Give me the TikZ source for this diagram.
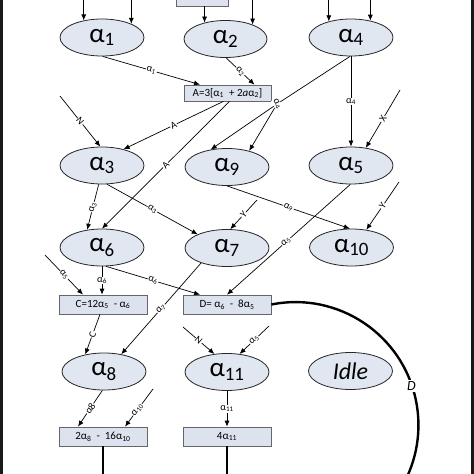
\documentclass[tikz,border=0pt]{standalone}
\usepackage{fontspec}
\setmainfont{Carlito}
\usetikzlibrary{calc,arrows.meta,shapes.geometric}
\definecolor{ellfill}{HTML}{E1E7F1}
\definecolor{boxfill}{HTML}{DDE3EE}
\newcommand{\al}[1]{α\textsubscript{#1}}
\begin{document}
\begin{tikzpicture}[x=1pt,y=-1pt,
 ell/.style={ellipse, draw=black!85, line width=0.8pt, fill=ellfill, minimum width=84pt, minimum height=37pt, inner sep=0pt, font=\fontsize{27}{27}\selectfont},
 bx/.style={rectangle, draw=black!60, line width=0.7pt, fill=boxfill, minimum width=88pt, minimum height=19pt, inner sep=0pt, font=\fontsize{11}{11}\selectfont},
 con/.style={-{Latex[length=6pt,width=5pt]}, line width=0.7pt},
 ln/.style={line width=0.7pt},
 elab/.style={fill=white, inner sep=0.6pt, font=\fontsize{10}{10}\selectfont, sloped},
 elabu/.style={fill=white, inner sep=0.6pt, font=\fontsize{10}{10}\selectfont},
 heavy/.style={line width=2.4pt}
]
\useasboundingbox (0,0) rectangle (474,474);
\fill[white] (0,0) rectangle (474,474);
\clip (0,0) rectangle (474,474);
\fill[black!90] (0,0) rectangle (2.5,474);
\fill[black!90] (471,0) rectangle (474,474);

% nodes
\node[ell] (a1) at (102,37.5) {\al{1}};
\node[ell, minimum width=83pt] (a2) at (225.5,39) {\al{2}};
\node[ell] (a4) at (351,37.5) {\al{4}};
\node[bx, minimum width=52pt, minimum height=16pt] (topbox) at (202,-2) {};
\node[bx, minimum width=87pt, minimum height=16pt] (boxA) at (227.5,93) {A=3[\al{1} \ + 2\textit{a}\al{2}]};
\node[ell] (a3) at (102,165.5) {\al{3}};
\node[ell] (a9) at (227,167) {\al{9}};
\node[ell] (a5) at (351,165.5) {\al{5}};
\node[ell] (a6) at (102,247.5) {\al{6}};
\node[ell] (a7) at (227,248) {\al{7}};
\node[ell] (a10) at (351.5,247.5) {\al{10}};
\node[bx] (boxC) at (103,304.5) {C=12\al{5} \ - \al{6}};
\node[bx] (boxD) at (227,304.5) {D= \al{6} \ - \ 8\al{5}};
\node[ell] (a8) at (104,371.5) {\al{8}};
\node[ell] (a11) at (227,372) {\al{11}};
\node[ell, font=\itshape\fontsize{24}{24}\selectfont] (idle) at (350.5,371) {Idle};
\node[bx] (boxE) at (103,436.5) {2\al{8} \ - \ 16\al{10}};
\node[bx] (boxF) at (227,436.5) {4\al{11}};

% free ends
\coordinate (top) at (0,-1);
\coordinate (bot) at (0,480);
\coordinate (n1) at (60,96);
\coordinate (x1) at (400,90);
\coordinate (y1) at (257,200);
\coordinate (y2) at (399,182);
\coordinate (c5) at (45,255);
\coordinate (n2) at (183,327);
\coordinate (a5b) at (269,326);
\coordinate (a10b) at (153,389);
\coordinate (ctr) at (295,425);

% top arrows
\draw[con] (a1.137 |- top) -- (a1.137);
\draw[con] (a1.25 |- top) -- (a1.25);
\draw[con] (topbox.south -| a2.142) -- (a2.142);
\draw[con] (a2.28 |- top) -- (a2.28);
\draw[con] (a4.144 |- top) -- (a4.144);
\draw[con] (a4.41 |- top) -- (a4.41);

% row 1 -> A
\draw[con] (a1.-88) -- node[elab]{\al{1}} ([xshift=-27.5pt]boxA.north);
\draw[con] (a2.-88) -- node[elab]{\al{2}} ([xshift=27pt]boxA.north);

% alpha4 junction
\node[elabu, rotate=-60] (j4) at (277,104) {\al{4}};
\draw[ln] (a4.-93) -- (j4);
\draw[con] (j4) -- (a9.133);
\draw[con] (j4) -- (a9.36);
\draw[con] (a4.south) -- node[elabu]{\al{4}} (a5.north);

% A outputs
\draw[con] ([xshift=-4pt]boxA.south) -- node[elab]{A} (a3.37);
\draw[con] ([xshift=2pt]boxA.south) -- node[elab]{A} (a6.north);

\draw[con] (n1) -- node[elab]{N} (a3.95);
\draw[con] (x1) -- node[elab]{X} (a5.50);

% row 2 -> row 3
\draw[con] (a3.-100) -- node[elab]{\al{3}} (a6.130);
\draw[con] (a3.-75) -- node[elab]{\al{3}} (a7.155);
\draw[con] (y1) -- node[elab]{Y} (a7.80);
\draw[con] (a9.-90) -- node[elab]{\al{9}} (a10.95);
\draw[con] (a5.-92) -- node[elab,pos=0.52]{\al{5}} (boxD.north);
\draw[con] (y2) -- node[elab]{Y} (a10.50);

% row 3 -> boxes
\draw[con] (c5) -- node[elab]{\al{5}} ([xshift=-20pt]boxC.north);
\draw[con] (a6.south) -- node[elabu]{\al{6}} (a6.south |- boxC.north);
\draw[con] (a6.-78) -- node[elab]{\al{6}} ([xshift=-27pt]boxD.north);
\draw[con] (a7.-150) -- node[elab]{\al{7}} (a8.45);

% boxes -> row 4
\draw[con] ([xshift=-3pt]boxC.south) -- node[elab]{C} (a8.138);
\draw[con] (n2) -- node[elab]{N} (a11.125);
\draw[con] (a5b) -- node[elab]{\al{5}} (a11.55);

% row 4 -> bottom boxes
\draw[con] (a8.-95) -- node[elab]{α8} ([xshift=-25pt]boxE.north);
\draw[con] (a10b) -- node[elab,pos=0.55]{\al{10}} ([xshift=22pt]boxE.north);
\draw[con] (a11.south) -- node[elabu]{\al{11}} (a11.south |- boxF.north);

% heavy lines
\draw[heavy] (boxE.south) -- (boxE.south |- bot);
\draw[heavy] (boxF.south) -- (boxF.south |- bot);
\draw[heavy] (boxD.east) arc[start angle=-101.3, end angle=30, radius=123];
\node[fill=white, inner sep=1.5pt, font=\itshape\fontsize{14}{14}\selectfont] (dl) at ($(ctr)+(-18.7:123)$) {D};
\end{tikzpicture}
\end{document}
